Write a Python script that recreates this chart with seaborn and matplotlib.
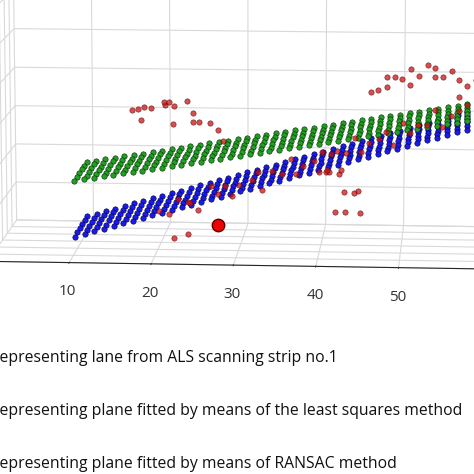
import numpy as np
import matplotlib
matplotlib.use("Agg")
import matplotlib.pyplot as plt
import seaborn as sns

sns.set_style("white")
plt.rcParams['font.family'] = ['Open Sans', 'DejaVu Sans']

# centre-line samples of the bands (x along lane, z height)
x_band = [10, 11.2, 12.4, 13.6, 14.8, 16, 17.2, 18.4, 19.6, 20.8, 22, 23.2, 24.4, 25.6, 26.8,
          28, 29.2, 30.4, 31.6, 32.8, 34, 35.2, 36.4, 37.6, 38.8, 40, 41.2, 42.4, 43.6, 44.8,
          46, 47.2, 48.4, 49.6, 50.8, 52, 53.2, 54.4, 55.6, 56.8, 58, 59.2, 60.4]
z_green = [4.0, 4.2, 4.4, 4.6, 4.8, 5.0, 5.2, 5.4, 5.6, 5.8, 6.0, 6.2, 6.4, 6.6, 6.8,
           7.0, 7.2, 7.4, 7.6, 7.8, 8.0, 8.2, 8.4, 8.6, 8.8, 9.0, 9.2, 9.4, 9.6, 9.8,
           10.0, 10.2, 10.4, 10.6, 10.8, 11.0, 11.2, 11.4, 11.6, 11.8, 12.0, 12.2, 12.4]
z_blue = [-3.0, -2.65, -2.3, -1.95, -1.6, -1.25, -0.9, -0.55, -0.2, 0.15, 0.5, 0.85, 1.2, 1.55, 1.9,
          2.25, 2.6, 2.95, 3.3, 3.65, 4.0, 4.35, 4.7, 5.05, 5.4, 5.75, 6.1, 6.45, 6.8, 7.15,
          7.5, 7.85, 8.2, 8.55, 8.9, 9.25, 9.6, 9.95, 10.3, 10.65, 11.0, 11.35, 11.7]
y_offsets = [-1.6, -1.0, -0.4, 0.2, 0.8, 1.4]
# red lane points (ALS strip)
red_x = [16, 17, 18, 19, 20, 21, 22, 23, 24, 25, 26, 18, 20, 22, 24, 27, 28,
         46, 47, 48, 49, 50, 51, 52, 53, 54, 55, 56, 57, 58, 59, 60, 48, 51, 54, 57,
         40, 41, 42, 43, 44, 41, 42, 43, 40.5, 42.5, 44.5, 45,
         20, 22, 24, 26, 28, 30, 32, 34, 36, 38, 40, 42, 44, 46, 48, 50, 52, 54, 56, 58,
         21, 23, 25, 27, 29, 31, 33, 35, 37, 39, 41, 43, 45, 47, 49, 51, 53, 55, 57, 24, 22]
red_z = [11.0, 11.6, 12.2, 12.4, 12.0, 12.6, 12.9, 12.3, 11.4, 10.6, 9.8, 11.2, 11.4, 11.0, 10.4, 9.0, 8.4,
         14.0, 14.8, 15.6, 16.2, 16.6, 16.8, 16.5, 17.0, 17.2, 16.8, 16.5, 16.0, 15.6, 15.2, 15.0, 14.6, 15.4, 15.8, 14.4,
         5.0, 4.2, 3.2, 2.2, 1.2, 5.6, 0.2, -1.0, 3.6, 4.8, 1.6, -0.4,
         -0.5, 0.2, 0.9, 1.6, 2.3, 3.0, 3.7, 4.4, 5.1, 5.8, 6.5, 7.2, 7.9, 8.6, 9.3, 10.0, 10.7, 11.4, 12.1, 12.8,
         -1.4, -0.6, 0.1, 0.8, 1.5, 2.2, 2.9, 3.6, 4.3, 5.0, 5.7, 6.4, 7.1, 7.8, 8.5, 9.2, 9.9, 10.6, 11.3, -2.5, -3.5]
red_y = [1.0, 0.5, 0.0, -0.5, 1.2, 0.3, -0.8, 0.9, 0.2, -0.4, 0.6, -1.0, 1.4, -1.2, 0.0, 0.5, -0.5,
         0.5, -0.3, 1.0, 0.2, -0.9, 0.7, -0.1, 1.2, 0.4, -0.6, 0.9, 0.1, -0.5, 1.3, -1.1, 0.6, -0.2, 0.8, -0.7,
         -1.0, 0.0, 1.0, -0.5, 0.5, 1.2, -1.2, 0.2, 0.8, -0.3, 0.4, -0.6,
         -0.6, 0.4, -1.0, 0.8, 0.0, -0.7, 0.6, -0.2, 1.0, -1.1, 0.3, -0.4, 0.9, -0.8, 0.1, 0.7, -0.5, 1.1, -0.9, 0.2,
         0.0, 1.0, -1.0, 0.5, -0.5, 1.2, -1.2, 0.4, -0.4, 0.8, -1.5, 0.3, -0.3, 0.9, -0.9, 0.1, 0.6, -0.6, 1.1, -1.5, -1.0]
labels = ["representing lane from ALS scanning strip no.1",
          "representing plane fitted by means of the least squares method",
          "representing plane fitted by means of RANSAC method"]

fig = plt.figure(figsize=(4.74, 4.74), dpi=100)
ax = fig.add_axes([-0.9, 0.11, 2.85, 1.25], projection='3d', computed_zorder=False)
ax.set_box_aspect((2.6, 1, 1.3))
X, Y = np.meshgrid(x_band, y_offsets)
ZG = np.tile(z_green, (len(y_offsets), 1))
ZB = np.tile(z_blue, (len(y_offsets), 1))
ax.scatter(X.ravel(), Y.ravel(), ZB.ravel(), c='#1a1aee', edgecolors='#000033', s=15, linewidths=0.4, depthshade=False)
ax.scatter(X.ravel(), Y.ravel(), ZG.ravel(), c='#22a022', edgecolors='#002200', s=15, linewidths=0.4, depthshade=False)
ax.scatter(red_x, red_y, red_z, c='#cc1111', edgecolors='#440000', s=15, linewidths=0.4, alpha=0.75, depthshade=False)
ax.scatter([28], [-2.5], [-0.5], c='#ee0000', edgecolors='#550000', s=80, depthshade=False)

ax.set_xlim(0, 64); ax.set_ylim(-3, 3); ax.set_zlim(-5, 27)
ax.set_xticks([10, 20, 30, 40, 50])
ax.set_yticklabels([]); ax.set_zticklabels([])
ax.tick_params(axis='x', labelsize=11, colors='#333333', pad=8)
ax.tick_params(axis='z', length=0)
for a in (ax.xaxis, ax.yaxis, ax.zaxis):
    a.set_pane_color((1, 1, 1, 1))
    a._axinfo['grid']['color'] = (0.85, 0.85, 0.85, 1)
ax.view_init(elev=10, azim=-86)

for i, t in enumerate(labels):
    fig.text(-0.014, 0.245 - i*0.112, t, fontsize=11.3, color='#111111', va='center')
fig.savefig("out.png", dpi=100)
